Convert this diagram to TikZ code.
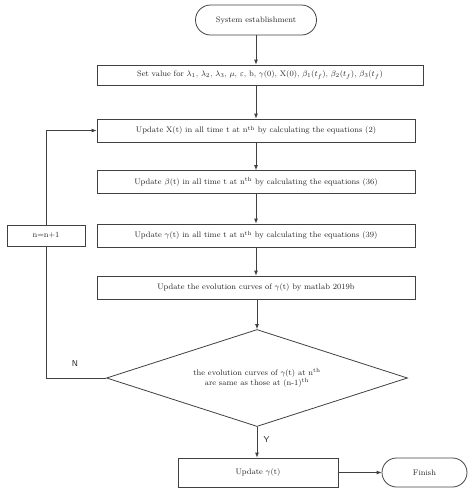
\documentclass[tikz,border=0pt]{standalone}
\usetikzlibrary{arrows.meta,shapes.geometric,shapes.misc}
\begin{document}
\begin{tikzpicture}[x=1pt,y=-1pt,
  every node/.style={font=\fontsize{8}{9.5}\selectfont, text=black!85},
  procbox/.style={draw=black!75, line width=0.8pt, minimum width=318pt, minimum height=23pt, inner sep=0pt},
  term/.style={draw=black!75, line width=0.8pt, rounded rectangle, inner sep=0pt},
  decide/.style={draw=black!75, line width=0.8pt, diamond, aspect=3.1, inner sep=0pt},
  conn/.style={draw=black!75, line width=0.8pt, -{Latex[length=5pt,width=4pt]}},
  plainline/.style={draw=black!75, line width=0.8pt},
  lbl/.style={font=\sffamily\fontsize{8.5}{10}\selectfont}
]
\useasboundingbox (0,0) rectangle (474,496);
\node[term, minimum width=121pt, minimum height=30pt] (start) at (256,20) {System establishment};
\node[procbox, minimum width=326pt, minimum height=20pt] (b1) at (260,75) {Set value for $\lambda_1$, $\lambda_2$, $\lambda_3$, $\mu$, $\varepsilon$, b, $\gamma$(0), X(0), $\beta_1(t_f)$, $\beta_2(t_f)$, $\beta_3(t_f)$};
\node[procbox] (b2) at (256,130.5) {Update X(t) in all time t at n$^{\mathrm{th}}$ by calculating the equations (2)};
\node[procbox] (b3) at (256,182) {Update $\beta$(t) in all time t at n$^{\mathrm{th}}$ by calculating the equations (36)};
\node[procbox] (b4) at (256,235.5) {Update $\gamma$(t) in all time t at n$^{\mathrm{th}}$ by calculating the equations (39)};
\node[procbox] (b5) at (256,287.5) {Update the evolution curves of $\gamma$(t) by matlab 2019b};
\node[decide, minimum width=301pt, minimum height=97pt] (dec) at (257,378) {};
\node[align=center] (dectext) at (257,378) {the evolution curves of $\gamma$(t) at n$^{\mathrm{th}}$\\are same as those at (n-1)$^{\mathrm{th}}$};
\node[procbox, minimum width=78pt, minimum height=21pt] (inc) at (46,235.5) {n=n+1};
\node[procbox, minimum width=160pt, minimum height=29pt] (upd) at (258,472.5) {Update $\gamma$(t)};
\node[term, minimum width=85pt, minimum height=29pt] (fin) at (424.5,472.5) {Finish};
\coordinate (cl) at (46,378);
\coordinate (ct) at (46,130.5);
\draw[conn] (start.south) -- (start.south |- b1.north);
\draw[conn] (start.south |- b1.south) -- (b2.north);
\draw[conn] (b2) -- (b3);
\draw[conn] (b3) -- (b4);
\draw[conn] (b4) -- (b5);
\draw[conn] (b5.south -| dec.north) -- (dec.north);
\draw[conn] (dec.south) -- (upd.north -| dec.south) node[lbl, pos=0.4, right=3pt] (ylab) {Y};
\draw[conn] (upd) -- (fin);
\draw[plainline] (dec.west) -- (cl) -- (inc.south);
\draw[conn] (inc.north) -- (ct) -- (b2.west);
\node[lbl] (nlab) at (75,364) {N};
\end{tikzpicture}
\end{document}
